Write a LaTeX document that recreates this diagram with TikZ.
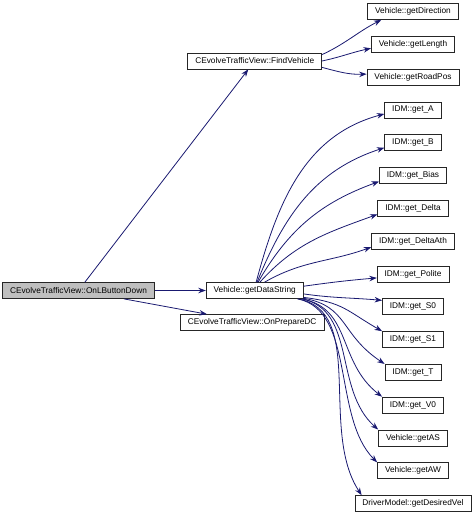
\documentclass[tikz,border=0pt]{standalone}
\usepackage{fontspec}
\setmainfont{Liberation Sans}
\usetikzlibrary{positioning, arrows.meta}
\definecolor{Edgecolor}{RGB}{25,25,112}
\definecolor{Rootcolor}{RGB}{191,191,191}

\begin{document}
\begin{tikzpicture}[
  x=1pt, y=-1pt,
  node distance=16.1pt,
  fn/.style={
    rectangle, draw=black!85, line width=0.7pt, fill=white,
    font=\fontsize{8.3}{10}\selectfont, inner xsep=7.5pt, inner ysep=0pt,
    minimum height=16pt
  },
  rootfn/.style={fn, fill=Rootcolor},
  arr/.style={-{Stealth[length=7.5pt,width=5.5pt]}, line width=0.8pt, Edgecolor}
]
\useasboundingbox (0,0) rectangle (474,515);

%% -- caller and direct callees ---------------------------------------------
\node[rootfn] (down) at (78.5,290.5) {CEvolveTrafficView::OnLButtonDown};
\node[fn, right=51pt of down]                  (data) {Vehicle::getDataString};
\node[fn, below=15.3pt of data, xshift=-2.5pt] (prep) {CEvolveTrafficView::OnPrepareDC};
\node[fn, above=212.8pt of data]               (find) {CEvolveTrafficView::FindVehicle};

%% -- right column (leaf functions, top-down) --------------------------------
\node[fn] (dir) at (413,11.5)   {Vehicle::getDirection};
\node[fn, below=of dir]   (len)   {Vehicle::getLength};
\node[fn, below=of len]   (pos)   {Vehicle::getRoadPos};
\node[fn, below=of pos]   (ga)    {IDM::get\_A};
\node[fn, below=of ga]    (gb)    {IDM::get\_B};
\node[fn, below=of gb]    (bias)  {IDM::get\_Bias};
\node[fn, below=of bias]  (delta) {IDM::get\_Delta};
\node[fn, below=of delta] (dath)  {IDM::get\_DeltaAth};
\node[fn, below=of dath]  (pol)   {IDM::get\_Polite};
\node[fn, below=of pol]   (gs0)   {IDM::get\_S0};
\node[fn, below=of gs0]   (gs1)   {IDM::get\_S1};
\node[fn, below=of gs1]   (gt)    {IDM::get\_T};
\node[fn, below=of gt]    (gv0)   {IDM::get\_V0};
\node[fn, below=of gv0]   (vas)   {Vehicle::getAS};
\node[fn, below=of vas]   (vaw)   {Vehicle::getAW};
\node[fn, below=of vaw]   (vel)   {DriverModel::getDesiredVel};

%% -- calls from OnLButtonDown ----------------------------------------------
\draw[arr] (down) -- (find);
\draw[arr] (down) -- (data);
\draw[arr] (down) -- (prep);

%% -- calls from FindVehicle ------------------------------------------------
\draw[arr] ([yshift=-2pt]find.north east) to[out=25,in=207] ([xshift=14pt]dir.south west);
\draw[arr] (find.east) to[out=12,in=192] ([yshift=-4pt]len.west);
\draw[arr] ([yshift=2pt]find.south east) to[out=-15,in=182] ([yshift=3pt]pos.west);

%% -- calls from getDataString (upper fan) ----------------------------------
\draw[arr] (data.80) to[out=75,in=195] ([yshift=-4pt]ga.west);
\draw[arr] (data.74) to[out=68,in=198] ([yshift=-5pt]gb.west);
\draw[arr] (data.68) to[out=60,in=200] ([yshift=-6pt]bias.west);
\draw[arr] (data.58) to[out=48,in=200] ([yshift=-6pt]delta.west);
\draw[arr] (data.40) to[out=30,in=200] ([yshift=-6pt]dath.west);
\draw[arr] (data.5)  to[out=8,in=185]  ([yshift=-4pt]pol.west);

%% -- calls from getDataString (lower fan, bundled) -------------------------
\draw[arr] (data.-4)    to[out=-8,in=175] ([yshift=-2pt]gs0.north west);
\draw[arr] (data.-8)    .. controls +(40,5)  and +(-35,-20) .. (gs1.north west);
\draw[arr] (data.-9.5)  .. controls +(45,8)  and +(-45,-30) .. (gt.north west);
\draw[arr] (data.-10)   .. controls +(50,10) and +(-45,-35) .. (gv0.north west);
\draw[arr] (data.-10.5) .. controls +(55,12) and +(-45,-40) .. (vas.north west);
\draw[arr] (data.-11)   .. controls +(58,12) and +(-45,-45) .. (vaw.north west);
\draw[arr] (data.-11.5) .. controls +(69,12) and +(-43,-65) .. ([xshift=7pt]vel.north west);

\end{tikzpicture}
\end{document}
